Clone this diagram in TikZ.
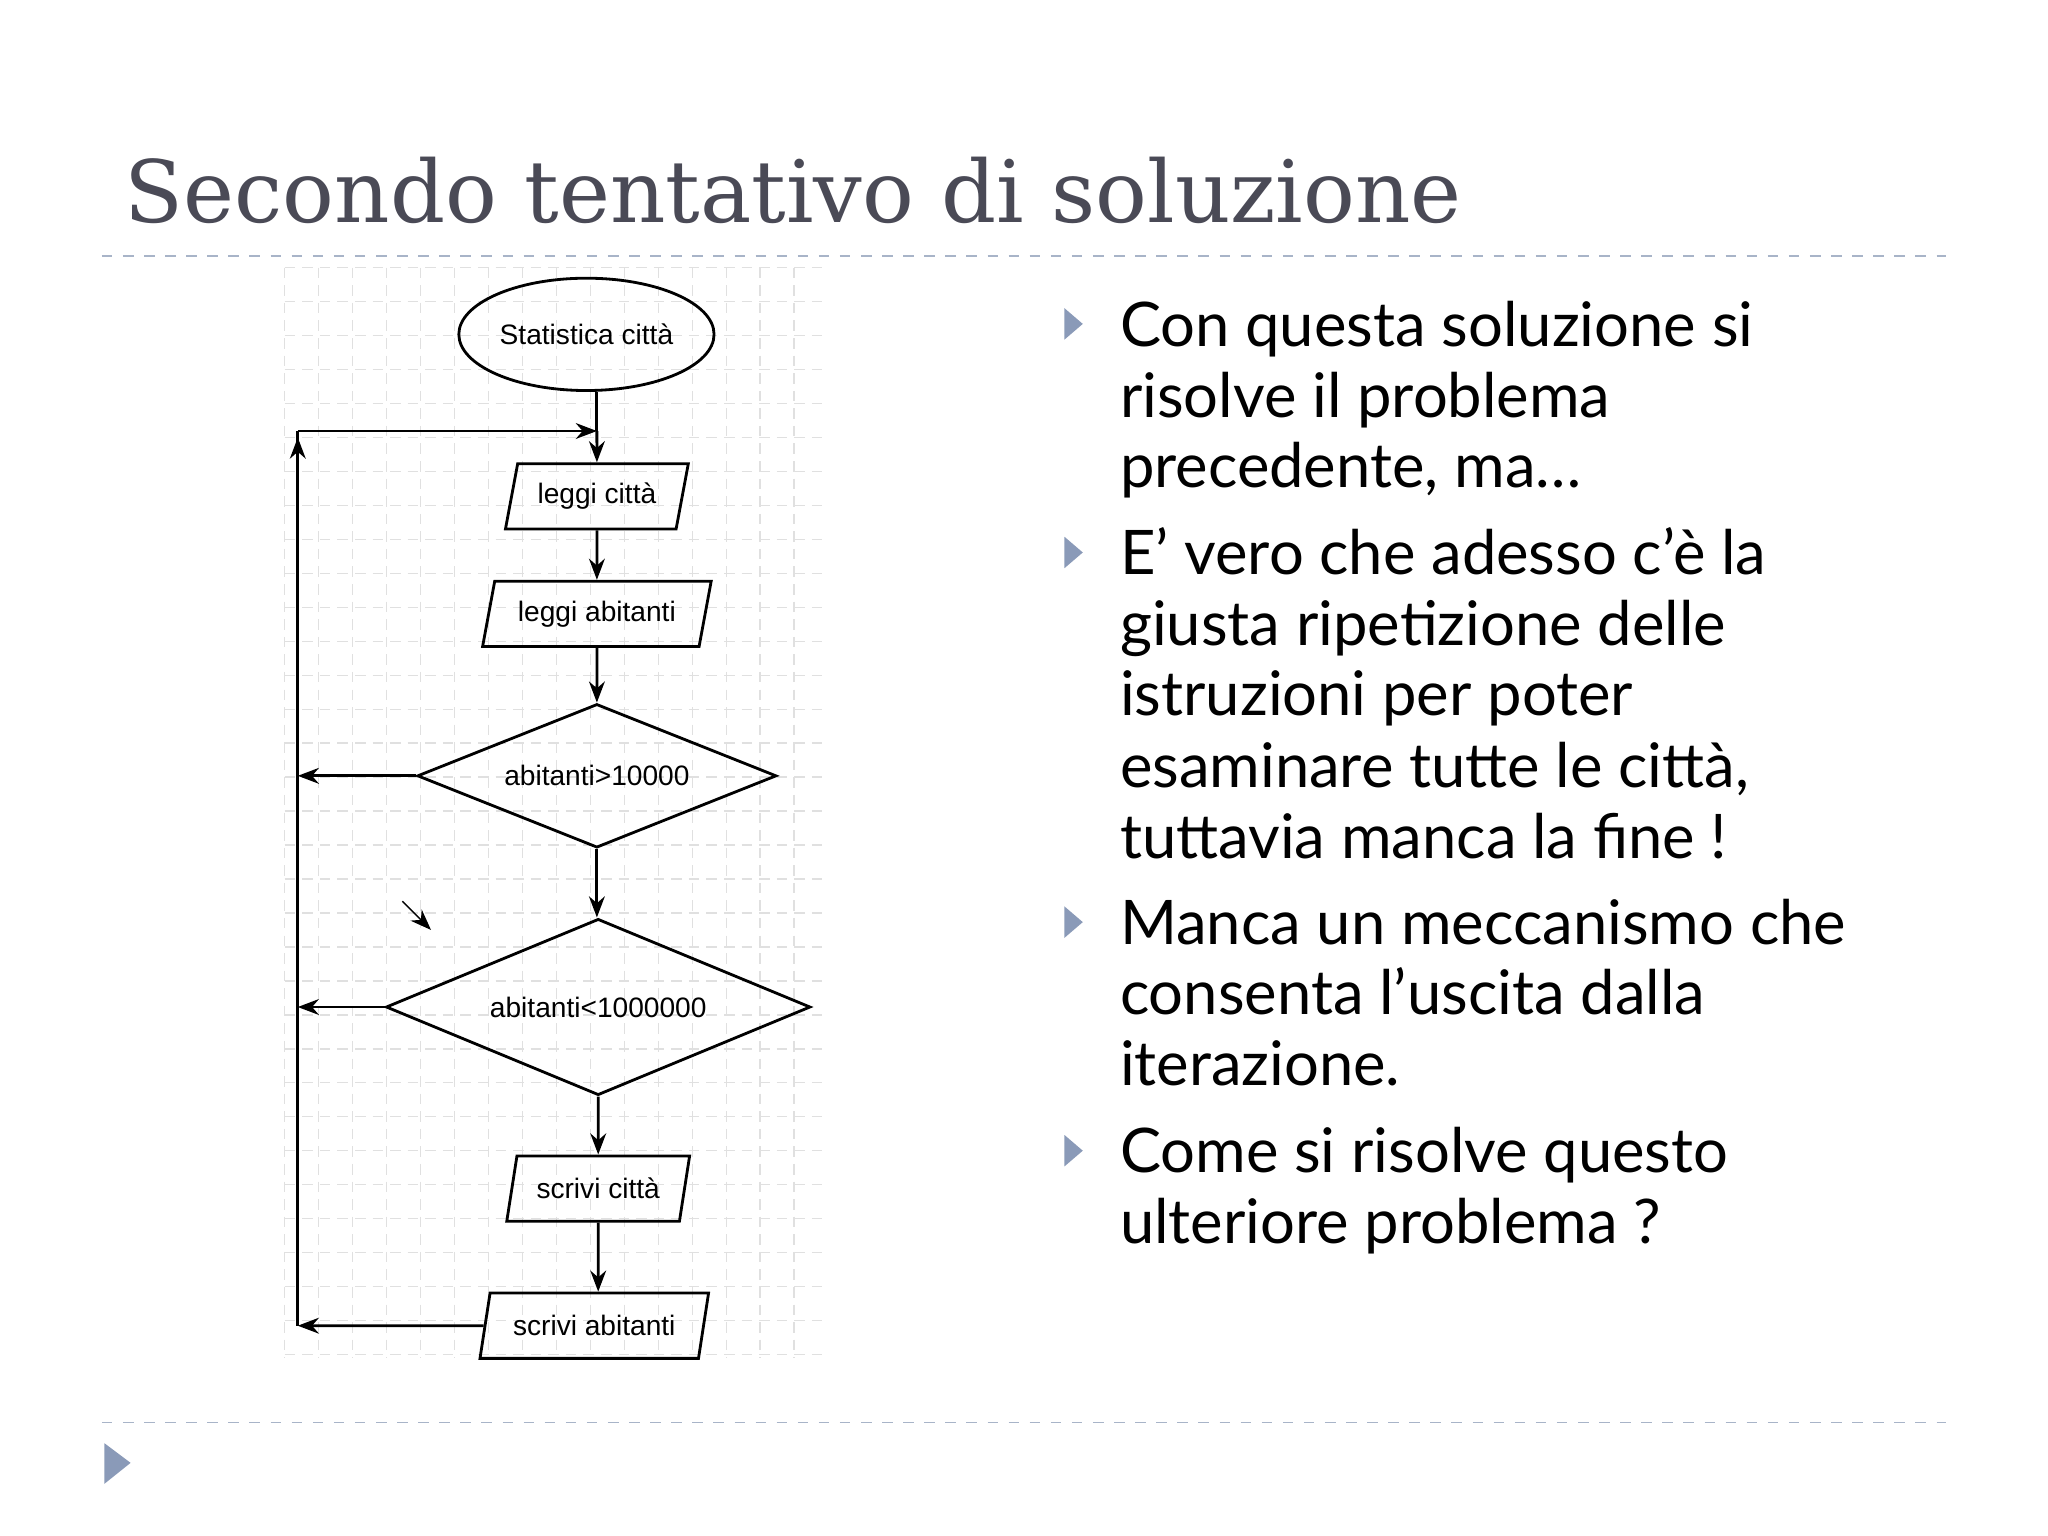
\documentclass[tikz,border=0pt]{standalone}
\usepackage{fontspec}
\setmainfont{DejaVu Serif}
\newfontfamily\bodyf{Lato}
\newfontfamily\fcf{Liberation Sans}
\usetikzlibrary{shapes.geometric,arrows.meta}
\definecolor{titlec}{HTML}{4A4A56}
\definecolor{dashc}{HTML}{A8B4C8}
\definecolor{bulc}{HTML}{8A9AB8}
\begin{document}
\begin{tikzpicture}[x=0.013061cm,y=-0.013061cm,
  fc/.style={draw,thick,font=\fcf\fontsize{8}{9}\selectfont,inner sep=1pt},
  para/.style={fc,trapezium,trapezium left angle=70,trapezium right angle=110,trapezium stretches body,minimum height=50*0.013061cm},
  dia/.style={fc,diamond,aspect=2.4,inner sep=0pt},
  arr/.style={thick,-{Stealth[length=6pt]}},
  bl/.style={anchor=base west,inner sep=0pt,font=\bodyf\fontsize{17.5}{20}\selectfont}]
\useasboundingbox (0,0) rectangle (1568,1176);
\fill[white] (0,0) rectangle (1568,1176);
\node[anchor=base west,inner sep=0pt,text=titlec,font=\fontsize{24.5}{28}\selectfont] (title) at (95,170) {Secondo tentativo di soluzione};
\draw[dashc,dashed] (78,196) -- (1490,196);
\draw[dashc,dashed] (78,1089) -- (1490,1089);
\fill[bulc] (80,1105) -- (80,1136) -- (100,1120) -- cycle;
% grid
\foreach \x in {218,244,...,632} \draw[black!12,densely dashed] (\x,205) -- (\x,1040);
\foreach \y in {205,231,...,1040} \draw[black!12,densely dashed] (218,\y) -- (632,\y);
% flowchart
\node[fc,ellipse,minimum width=178*0.013061cm,minimum height=86*0.013061cm] (st) at (449,256) {Statistica città};
\node[para,minimum width=140*0.013061cm] (lc) at (457,380) {leggi città};
\node[para,minimum width=175*0.013061cm] (la) at (457,470) {leggi abitanti};
\node[dia,minimum width=275*0.013061cm,minimum height=110*0.013061cm] (d1) at (457,594) {abitanti>10000};
\node[dia,minimum width=325*0.013061cm,minimum height=135*0.013061cm] (d2) at (458,771) {abitanti<1000000};
\node[para,minimum width=140*0.013061cm] (sc) at (458,910) {scrivi città};
\node[para,minimum width=175*0.013061cm] (sa) at (455,1015) {scrivi abitanti};
\coordinate (j) at (457,330);
\coordinate (lb) at (228,1015);
\coordinate (lt) at (228,330);
\coordinate (l1) at (228,594);
\coordinate (l2) at (228,771);
\coordinate (s1) at (308,690);
\coordinate (s2) at (330,712);
\draw[thick] (st.south -| lc) -- (j);
\draw[arr] (j) -- (lc);
\draw[arr] (lc) -- (la);
\draw[arr] (la) -- (d1);
\draw[arr] (d1) -- (d2.north -| d1);
\draw[arr] (d2) -- (sc);
\draw[arr] (sc) -- (sa.north -| sc);
\draw[arr] (sa) -- (lb);
\draw[arr] (d1.west) -- (l1);
\draw[arr] (d2.west) -- (l2);
\draw[thick] (lb) -- (lt);
\draw[arr] (lb) -- (228,335);
\draw[arr] (lt) -- (j);
\draw[arr,thin] (s1) -- (s2);
% bullets
\foreach \yy in {248,423,706,881}
  \fill[bulc] (815,\yy-12) -- (815,\yy+12) -- (829,\yy) -- cycle;
\node[bl] (t1) at (857,265) {Con questa soluzione si};
\node[bl] (t2) at (857,320) {risolve il problema};
\node[bl] (t3) at (857,373) {precedente, ma…};
\node[bl] (t4) at (857,440) {E’ vero che adesso c’è la};
\node[bl] (t5) at (857,494) {giusta ripetizione delle};
\node[bl] (t6) at (857,548) {istruzioni per poter};
\node[bl] (t7) at (857,603) {esaminare tutte le città,};
\node[bl] (t8) at (857,657) {tuttavia manca la fine !};
\node[bl] (t9) at (857,723) {Manca un meccanismo che};
\node[bl] (t10) at (857,777) {consenta l’uscita dalla};
\node[bl] (t11) at (857,831) {iterazione.};
\node[bl] (t12) at (857,898) {Come si risolve questo};
\node[bl] (t13) at (857,952) {ulteriore problema ?};
\end{tikzpicture}
\end{document}
